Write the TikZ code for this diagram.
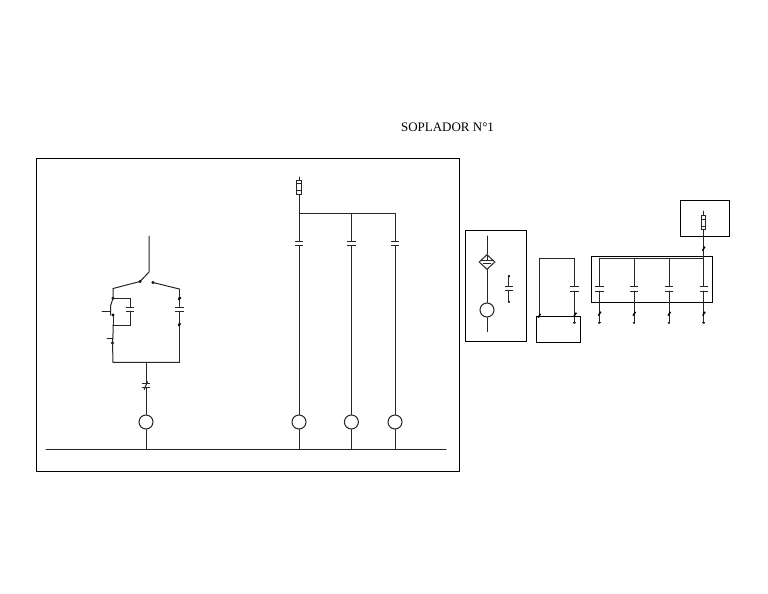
\documentclass[tikz,border=0pt]{standalone}
\usepackage{fontspec}
\setmainfont{Liberation Serif}
\usetikzlibrary{shapes.geometric}
\tikzset{
  x=1pt,y=-1pt,
  wire/.style={draw=black!85,line width=1pt,line cap=round},
  boxline/.style={draw=black,line width=1pt},
  thick slash/.style={draw=black,line width=1.3pt},
  motor/.style={circle,draw=black!85,line width=1pt,minimum size=14pt,inner sep=0pt,fill=white},
  fuse/.style={rectangle,draw=black!85,line width=1pt,minimum width=4.5pt,minimum height=14pt,inner sep=0pt,fill=white},
  dotc/.style={circle,fill=black,inner sep=0pt,minimum size=3.2pt},
  capa/.pic={
    \coordinate (-t) at (0,-2.3);
    \coordinate (-b) at (0,2.3);
    \draw[wire,line cap=butt] (-4.2,-2.3) -- (4.2,-2.3);
    \draw[wire,line cap=butt] (-4.2,2.3) -- (4.2,2.3);
  },
  fusebars/.pic={
    \draw[black!85,line width=0.8pt] (-2.2,-3.6) -- (2.2,-3.6);
    \draw[black!85,line width=0.8pt] (-2.2,3.6) -- (2.2,3.6);
  },
  tick/.pic={
    \draw[thick slash] (-1,1.6) -- (1,-1.6);
    \fill[black] (1,-1.6) circle (1.1);
  },
  pin/.pic={
    \fill[black!85] (0,0) circle (1.1);
    \draw[black!85,line width=0.7pt] (-1.3,-0.8) -- (1.3,-0.8);
  }
}
\begin{document}
\begin{tikzpicture}
\useasboundingbox (0,0) rectangle (768,594);
\node[inner sep=0pt,font=\fontsize{13}{15}\selectfont] (title) at (447.5,127) {SOPLADOR N°1};
% frames
\node[boxline,rectangle,inner sep=0pt,minimum width=423pt,minimum height=313pt] (mainbox) at (247.5,314.5) {};
\node[boxline,rectangle,inner sep=0pt,minimum width=60.5pt,minimum height=111pt] (boxa) at (496,285.5) {};
\node[boxline,rectangle,inner sep=0pt,minimum width=44.5pt,minimum height=25.5pt] (boxb) at (558.7,329.5) {};
\node[boxline,rectangle,inner sep=0pt,minimum width=121pt,minimum height=46pt] (boxc) at (652,279) {};
\node[boxline,rectangle,inner sep=0pt,minimum width=49.5pt,minimum height=35.5pt] (boxd) at (705,218.5) {};
% busbar
\coordinate (busL) at (46,449.3); \coordinate (busR) at (446,449.3);
\draw[wire] (busL) -- (busR);
% control circuit
\coordinate (feed) at (149,236);
\coordinate (pivot) at (149,272);
\coordinate (blade) at (140,281.5);
\coordinate (lc) at (113,288.5);
\coordinate (rd) at (153,282.5);
\coordinate (rc) at (179.3,289);
\draw[wire] (feed) -- (pivot) -- (blade);
\node[dotc] (d1) at (blade) {};
\draw[wire] (d1.center) -- (lc);
\node[dotc] (d2) at (rd) {};
\draw[wire] (d2.center) -- (rc);
\node[dotc] (d3) at (113,298.3) {};
\node[dotc] (d4) at (113,315) {};
\coordinate (pb1t) at (110.5,306); \coordinate (pb1b) at (110.5,315);
\coordinate (pb1h) at (102,311); \coordinate (pb1m) at (110.5,311);
\draw[wire] (lc) -- (d3.center) -- (pb1t) -- (pb1b);
\draw[wire] (pb1h) -- (pb1m);
\coordinate (par1) at (130,298.3); \coordinate (par2) at (130,325);
\coordinate (j1) at (113,325);
\pic (c1) at (130,309.5) {capa};
\draw[wire] (d3.center) -- (par1) -- (c1-t);
\draw[wire] (c1-b) -- (par2) -- (j1);
\draw[wire] (d4.center) -- (j1);
\coordinate (pb2t) at (113,334); \coordinate (pb2h) at (107,338.3); \coordinate (pb2m) at (113,338.3);
\node[dotc] (d5) at (112.5,343) {};
\draw[wire] (j1) -- (pb2t) -- (d5.center);
\draw[wire] (pb2h) -- (pb2m);
\coordinate (ctl) at (113,362.3); \coordinate (ctr) at (179.3,362.3); \coordinate (ctm) at (146,362.3);
\draw[wire] (d5.center) -- (ctl) -- (ctr);
\pic (c2) at (179.3,309.5) {capa};
\node[dotc] (d6) at (179.8,298) {};
\node[dotc] (d7) at (179.6,324) {};
\draw[wire] (rc) -- (c2-t);
\draw[wire] (c2-b) -- (ctr);
\draw[thick slash] (178.5,300) -- (d6.center);
\draw[thick slash] (178.5,326) -- (d7.center);
% coil 1
\node[motor] (m1) at (146,422) {};
\pic (c3) at (146,385.5) {capa};
\draw[wire] (ctm) -- (c3-t);
\draw[wire] (c3-b) -- (m1);
\coordinate (s1) at (147.5,381.7); \coordinate (s2) at (144.2,389.5);
\draw[wire] (s1) -- (s2);
\draw[wire] (m1) -- (146,449.3);
% power branches
\coordinate (ftop) at (299,177);
\node[fuse] (f1) at (299,187) {};
\pic at (299,187) {fusebars};
\coordinate (n1) at (299,213.7); \coordinate (n2) at (351.4,213.7); \coordinate (n3) at (395,213.7);
\draw[wire] (ftop) -- (f1);
\draw[wire] (f1) -- (n1) -- (n2) -- (n3);
\foreach \i/\xx in {1/299,2/351.4,3/395}{
  \pic (p\i) at (\xx,243.5) {capa};
  \node[motor] (mp\i) at (\xx,422) {};
  \coordinate (bp\i) at (\xx,449.3);
  \draw[wire] (n\i) -- (p\i-t);
  \draw[wire] (p\i-b) -- (mp\i);
  \draw[wire] (mp\i) -- (bp\i);
}
% box A
\node[diamond,draw=black!85,line width=1pt,minimum width=16pt,minimum height=15pt,inner sep=0pt,fill=white,aspect=1] (dia) at (487,262) {};
\coordinate (at) at (487,236); \coordinate (ab) at (487,331.7);
\node[motor] (ma) at (487,310) {};
\draw[wire] (at) -- (dia);
\draw[wire] (dia) -- (ma);
\draw[wire] (ma) -- (ab);
\draw[wire,line cap=butt] (480.5,260) -- (493.5,260);
\draw[wire,line cap=butt] (483,263.5) -- (491,263.5);
\draw[wire,line cap=butt] (487,255) -- (487,260);
\pic (ca) at (508.7,288.3) {capa};
\coordinate (cat) at (508.7,276); \coordinate (cab) at (508.7,302);
\draw[wire] (cat) -- (ca-t);
\draw[wire] (ca-b) -- (cab);
\pic at (508.9,276.5) {pin};
\pic at (508.9,302) {pin};
% box B loop
\coordinate (bl) at (539.3,317); \coordinate (blt) at (539.3,258.4);
\coordinate (brt) at (574.3,258.4); \coordinate (brb) at (574.3,322);
\pic (cb) at (574.3,288.8) {capa};
\draw[wire] (bl) -- (blt) -- (brt) -- (cb-t);
\draw[wire] (cb-b) -- (brb);
\pic at (539,316) {tick};
\pic at (574.8,315) {tick};
\pic at (574.3,323) {pin};
% box C and D
\coordinate (dt) at (703.7,211);
\node[fuse] (f2) at (703.7,222.5) {};
\pic at (703.7,222.5) {fusebars};
\coordinate (hr) at (703.7,258.4); \coordinate (hl) at (599.3,258.4);
\draw[wire] (dt) -- (f2);
\draw[wire] (f2) -- (hr) -- (hl);
\pic at (703.4,249) {tick};
\foreach \i/\xx in {1/599.3,2/634,3/669,4/703.7}{
  \coordinate (top\i) at (\xx,258.4);
  \pic (q\i) at (\xx,288.7) {capa};
  \coordinate (bot\i) at (\xx,322);
  \draw[wire] (top\i) -- (q\i-t);
  \draw[wire] (q\i-b) -- (bot\i);
  \pic at (\xx,314) {tick};
  \pic at (\xx,323) {pin};
}
\end{tikzpicture}
\end{document}
